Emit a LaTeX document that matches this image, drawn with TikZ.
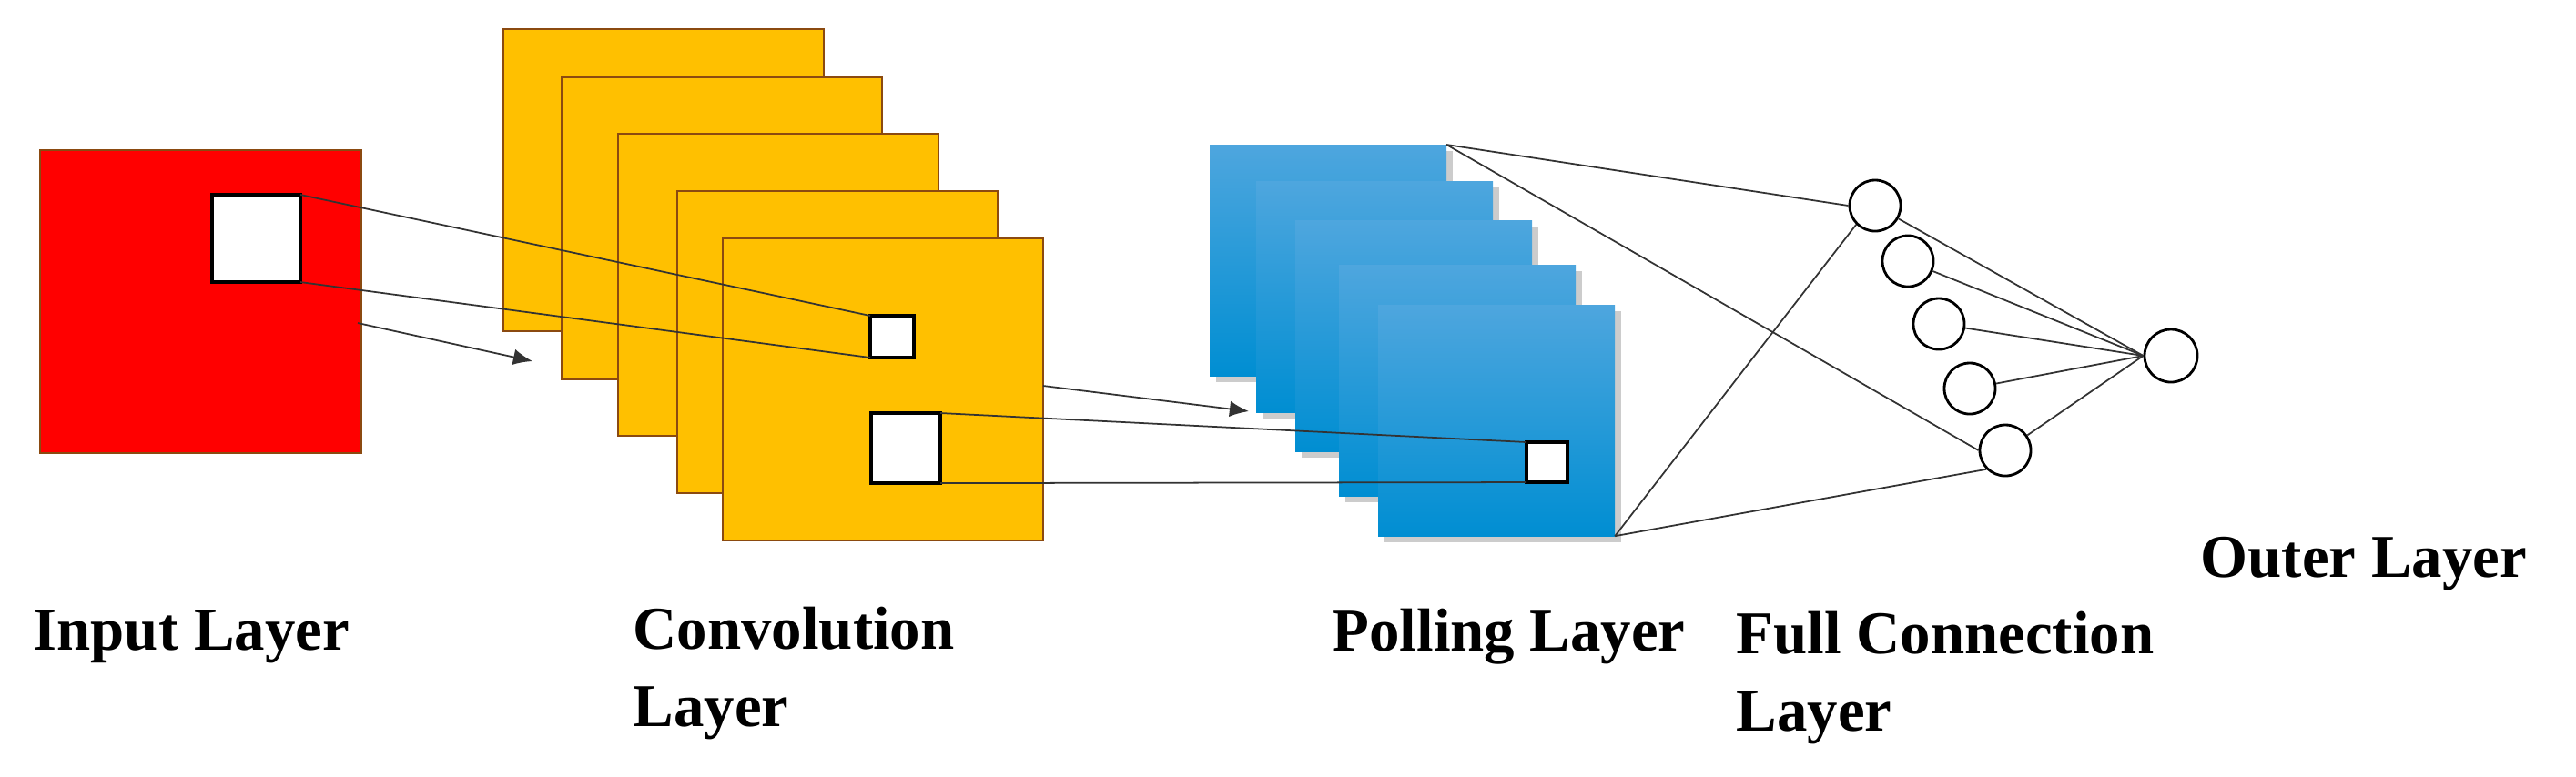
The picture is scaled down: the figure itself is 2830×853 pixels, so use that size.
\documentclass[tikz,border=0pt]{standalone}
\usepackage{fontspec}
\setmainfont{Liberation Serif}
\usetikzlibrary{arrows.meta,shadows}
\definecolor{conv}{HTML}{FFC000}
\definecolor{convb}{HTML}{8B4A10}
\definecolor{blueT}{HTML}{4EA6DE}
\definecolor{blueB}{HTML}{008ED2}
\tikzset{
  box/.style={anchor=north west,inner sep=0pt,outer sep=0pt},
  redbox/.style={box,fill=red,draw=convb,line width=0.5pt,minimum width=3.53cm,minimum height=3.33cm},
  convbox/.style={box,fill=conv,draw=convb,line width=0.7pt,minimum width=3.52cm,minimum height=3.32cm},
  poolbox/.style={box,top color=blueT,bottom color=blueB,minimum width=2.6cm,minimum height=2.54cm,drop shadow={shadow xshift=2pt,shadow yshift=-2pt,opacity=0.4}},
  win/.style={box,fill=white,draw=black,line width=1pt},
  neuron/.style={circle,draw=black,line width=0.8pt,minimum size=0.56cm,inner sep=0pt,fill=white},
  thin/.style={line width=0.5pt,black!80},
  arr/.style={thin,-{Latex[length=6pt,width=5pt]}},
  lab/.style={font=\fontsize{19}{22}\selectfont\bfseries,anchor=west,align=left,inner sep=0pt}
}
\begin{document}
\begin{tikzpicture}[x=0.01cm,y=-0.01cm]
\useasboundingbox (0,0) rectangle (2830,853);
% input
\node[redbox] (inp) at (44,165) {};
\node[win,minimum width=0.97cm,minimum height=0.96cm] (iw) at (233,214) {};
% convolution frames
\node[convbox] (c1) at (553,32) {};
\node[convbox] (c2) at (617,85) {};
\node[convbox] (c3) at (679,147) {};
\node[convbox] (c4) at (744,210) {};
\node[convbox] (c5) at (794,262) {};
\node[win,minimum width=0.48cm,minimum height=0.46cm] (cs) at (956,347) {};
\node[win,minimum width=0.76cm,minimum height=0.77cm] (cl) at (957,454) {};
% pooling frames
\node[poolbox] (p1) at (1329,159) {};
\node[poolbox] (p2) at (1380,199) {};
\node[poolbox] (p3) at (1423,242) {};
\node[poolbox] (p4) at (1471,291) {};
\node[poolbox] (p5) at (1514,335) {};
\node[win,minimum width=0.45cm,minimum height=0.44cm] (pw) at (1677,486) {};
% connectors input -> conv
\draw[thin] (iw.north east) -- (cs.north west);
\draw[thin] (iw.south east) -- (cs.south west);
\coordinate (a1) at (393,355);
\coordinate (a2) at (585,397);
\draw[arr] (a1) -- (a2);
% conv -> pool
\draw[thin] (cl.north east) -- (pw.north west);
\draw[thin] (cl.south east) -- (pw.south west);
\coordinate (b1) at (1146,424);
\coordinate (b2) at (1372,452);
\draw[arr] (b1) -- (b2);
% neurons
\node[neuron] (h1) at (2060,226) {};
\node[neuron] (h2) at (2096,287) {};
\node[neuron] (h3) at (2130,356) {};
\node[neuron] (h4) at (2164,427) {};
\node[neuron] (h5) at (2203,495) {};
\node[neuron,minimum size=0.58cm] (o) at (2385,391) {};
\draw[thin] (p1.north east) -- (h1.west);
\draw[thin] (p1.north east) -- (h5.west);
\draw[thin] (p5.south east) -- (h1.south west);
\draw[thin] (p5.south east) -- (h5.south west);
\foreach \h in {h1,h2,h3,h4,h5} \draw[thin] (\h) -- (o.west);
% labels
\node[lab] (l1) at (36,700) {Input Layer};
\node[lab] (l2) at (695,740) {Convolution\\[2pt]Layer};
\node[lab] (l3) at (1463,700) {Polling Layer};
\node[lab] (l4) at (1907,745) {Full Connection\\[2pt]Layer};
\node[lab] (l5) at (2417,620) {Outer Layer};
\end{tikzpicture}
\end{document}
